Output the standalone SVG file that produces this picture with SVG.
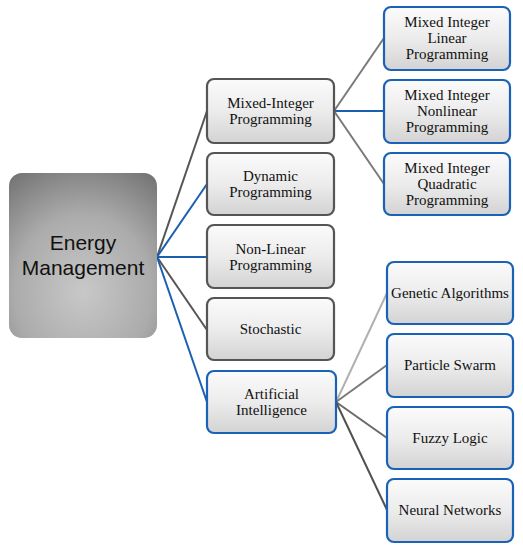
<svg xmlns="http://www.w3.org/2000/svg" width="523" height="550" viewBox="0 0 523 550">
<defs>
<linearGradient id="boxg" x1="0" y1="0" x2="0" y2="1">
<stop offset="0" stop-color="#fbfbfb"/>
<stop offset="0.5" stop-color="#ececec"/>
<stop offset="1" stop-color="#d3d3d3"/>
</linearGradient>
<radialGradient id="rootg" cx="0.5" cy="0.72" r="0.85">
<stop offset="0" stop-color="#c8c8c8"/>
<stop offset="0.55" stop-color="#ababab"/>
<stop offset="1" stop-color="#747474"/>
</radialGradient>
</defs>
<style>
.b{fill:url(#boxg);stroke-width:2.2}
.g{stroke:#555555}
.bl{stroke:#1a62b8}
.t{font-family:"Liberation Serif","Times New Roman",serif;font-size:15px;fill:#111;text-anchor:middle}
.c{fill:none;stroke-width:2}
</style>
<rect width="523" height="550" fill="#ffffff"/>
<g id="connectors">
<line class="c" x1="157" y1="257" x2="207" y2="111" stroke="#555555"/>
<line class="c" x1="157" y1="257" x2="207" y2="184" stroke="#1a5fb0"/>
<line class="c" x1="157" y1="257" x2="207" y2="257" stroke="#1a5fb0"/>
<line class="c" x1="157" y1="257" x2="207" y2="330" stroke="#555555"/>
<line class="c" x1="157" y1="257" x2="207" y2="402" stroke="#1a5fb0"/>
<line class="c" x1="334" y1="111" x2="384" y2="38" stroke="#7a7a7a"/>
<line class="c" x1="334" y1="111" x2="384" y2="111" stroke="#1a5fb0"/>
<line class="c" x1="334" y1="111" x2="384" y2="184" stroke="#7a7a7a"/>
<line class="c" x1="336" y1="402" x2="387" y2="293" stroke="#b0b0b0"/>
<line class="c" x1="336" y1="402" x2="387" y2="365" stroke="#7a7a7a"/>
<line class="c" x1="336" y1="402" x2="387" y2="438" stroke="#6a6a6a"/>
<line class="c" x1="336" y1="402" x2="387" y2="510" stroke="#505050"/>
</g>
<g id="energy-management">
<rect x="9" y="173" width="148" height="165" rx="13" fill="url(#rootg)"/>
<text x="83" y="250" font-family="Liberation Sans, Arial, sans-serif" font-size="21" fill="#111" text-anchor="middle">Energy</text>
<text x="83" y="275" font-family="Liberation Sans, Arial, sans-serif" font-size="21" fill="#111" text-anchor="middle">Management</text>
</g>
<g id="mixed-integer-programming">
<rect class="b g" x="207" y="79" width="127" height="64" rx="7"/>
<text class="t" x="270.5" y="108">Mixed-Integer</text>
<text class="t" x="270.5" y="124">Programming</text>
</g>
<g id="dynamic-programming">
<rect class="b g" x="207" y="153" width="127" height="62" rx="7"/>
<text class="t" x="270.5" y="181">Dynamic</text>
<text class="t" x="270.5" y="197">Programming</text>
</g>
<g id="non-linear-programming">
<rect class="b g" x="207" y="225" width="127" height="63" rx="7"/>
<text class="t" x="270.5" y="254">Non-Linear</text>
<text class="t" x="270.5" y="270">Programming</text>
</g>
<g id="stochastic">
<rect class="b g" x="207" y="298" width="127" height="62" rx="7"/>
<text class="t" x="270.5" y="334">Stochastic</text>
</g>
<g id="artificial-intelligence">
<rect class="b bl" x="207" y="371" width="129" height="62" rx="7"/>
<text class="t" x="271.5" y="399">Artificial</text>
<text class="t" x="271.5" y="415">Intelligence</text>
</g>
<g id="milp">
<rect class="b bl" x="384" y="7" width="126" height="63" rx="7"/>
<text class="t" x="447" y="27">Mixed Integer</text>
<text class="t" x="447" y="43">Linear</text>
<text class="t" x="447" y="59">Programming</text>
</g>
<g id="minlp">
<rect class="b bl" x="384" y="80" width="126" height="63" rx="7"/>
<text class="t" x="447" y="100">Mixed Integer</text>
<text class="t" x="447" y="116">Nonlinear</text>
<text class="t" x="447" y="132">Programming</text>
</g>
<g id="miqp">
<rect class="b bl" x="384" y="153" width="126" height="62" rx="7"/>
<text class="t" x="447" y="173">Mixed Integer</text>
<text class="t" x="447" y="189">Quadratic</text>
<text class="t" x="447" y="205">Programming</text>
</g>
<g id="genetic-algorithms">
<rect class="b bl" x="387" y="262" width="126" height="62" rx="7"/>
<text class="t" x="450" y="298" font-size="14.6">Genetic Algorithms</text>
</g>
<g id="particle-swarm">
<rect class="b bl" x="387" y="334" width="126" height="63" rx="7"/>
<text class="t" x="450" y="370">Particle Swarm</text>
</g>
<g id="fuzzy-logic">
<rect class="b bl" x="387" y="407" width="126" height="62" rx="7"/>
<text class="t" x="450" y="443">Fuzzy Logic</text>
</g>
<g id="neural-networks">
<rect class="b bl" x="387" y="479" width="126" height="63" rx="7"/>
<text class="t" x="450" y="515">Neural Networks</text>
</g>
</svg>
